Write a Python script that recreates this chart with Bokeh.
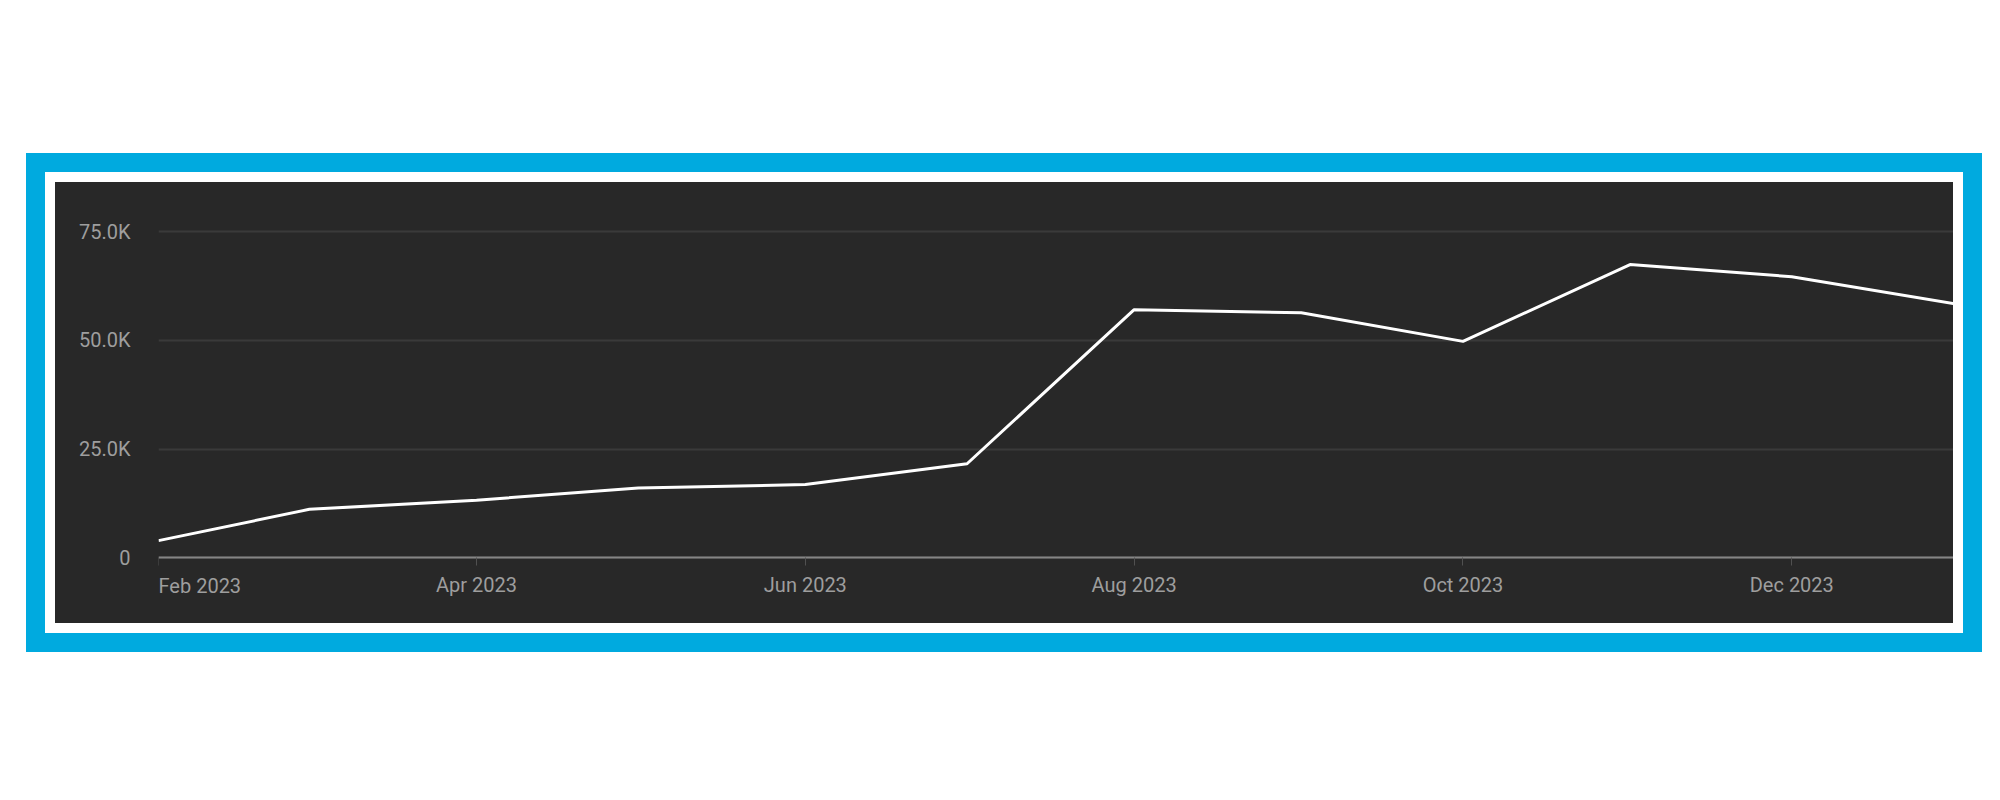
from datetime import datetime
from bokeh.plotting import figure
from bokeh.models import Range1d, FixedTicker, DatetimeTickFormatter, CustomJSTickFormatter, Label
from bokeh.embed import file_html
from bokeh.resources import INLINE

# ---- data ----
months = ["2023-02-01", "2023-03-01", "2023-04-01", "2023-05-01", "2023-06-01", "2023-07-01",
          "2023-08-01", "2023-09-01", "2023-10-01", "2023-11-01", "2023-12-01", "2024-01-01"]
values = [3900, 11100, 13200, 16000, 16800, 21600, 57100, 56400, 49800, 67500, 64700, 58300]
x_ticks = ["2023-02-01", "2023-04-01", "2023-06-01", "2023-08-01", "2023-10-01", "2023-12-01"]
x_tick_labels = ["Feb 2023", "Apr 2023", "Jun 2023", "Aug 2023", "Oct 2023", "Dec 2023"]
y_ticks = [0, 25000, 50000, 75000]

dates = [datetime.strptime(m, "%Y-%m-%d") for m in months]
tick_dt = [datetime.strptime(t, "%Y-%m-%d") for t in x_ticks]
tick_ms = [t.timestamp() * 1000 for t in tick_dt]

p = figure(width=1898, height=441, x_axis_type="datetime",
           x_range=Range1d(datetime(2023, 2, 1), datetime(2023, 12, 31)),
           y_range=Range1d(-15200, 86400),
           output_backend="svg", toolbar_location=None,
           min_border_left=103, min_border_right=0, min_border_top=0, min_border_bottom=0)

p.background_fill_color = "#282828"
p.border_fill_color = "#282828"
p.outline_line_color = None
p.margin = (182, 0, 0, 55)
p.styles = {"background-color": "#282828",
            "box-shadow": "0 0 0 10px #ffffff, 0 0 0 29px #00aadf"}

p.line(dates, values, line_color="#ffffff", line_width=3)

LABEL_COLOR = "#9e9e9e"

# x axis drawn at y = 0
xa = p.xaxis[0]
xa.fixed_location = 0
xa.ticker = FixedTicker(ticks=tick_ms)
xa.formatter = DatetimeTickFormatter(days="%b %Y", months="%b %Y", years="%b %Y")
xa.major_label_overrides = {tick_ms[0]: ""}
xa.axis_line_color = "#858585"
xa.axis_line_width = 2
xa.major_tick_line_color = "#505050"
xa.major_tick_out = 8
xa.major_tick_in = 0
xa.minor_tick_line_color = None
xa.major_label_text_font = "Roboto"
xa.major_label_text_font_size = "20px"
xa.major_label_text_color = LABEL_COLOR
xa.major_label_standoff = 7

# first tick label is left-aligned at the axis start
p.add_layout(Label(x=tick_ms[0], y=-6650, text=x_tick_labels[0],
                   text_align="left", text_baseline="middle", text_font="Roboto",
                   text_font_size="20px", text_color=LABEL_COLOR))

ya = p.yaxis[0]
ya.ticker = FixedTicker(ticks=y_ticks)
ya.formatter = CustomJSTickFormatter(code="return tick == 0 ? '0' : (tick/1000).toFixed(1) + 'K';")
ya.axis_line_color = None
ya.major_tick_line_color = None
ya.major_tick_out = 0
ya.major_tick_in = 0
ya.minor_tick_line_color = None
ya.minor_tick_out = 0
ya.major_label_text_font = "Roboto"
ya.major_label_text_font_size = "20px"
ya.major_label_text_color = LABEL_COLOR
ya.major_label_standoff = 28

p.xgrid.grid_line_color = None
p.ygrid.grid_line_color = "#3a3a3a"
p.ygrid.grid_line_width = 2

open("out.html", "w").write(file_html(p, INLINE))
